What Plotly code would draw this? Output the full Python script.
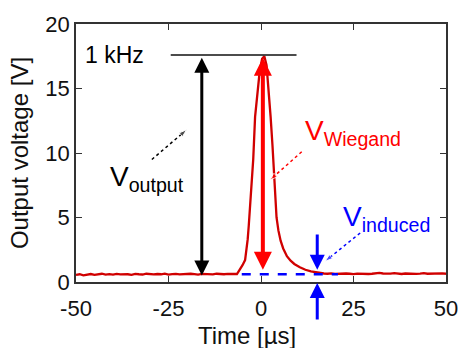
import plotly.graph_objects as go

# Wiegand pulse recorded at 1 kHz excitation
t_left = [-50, -49, -48, -47, -46, -45, -44, -43, -42, -41, -40, -39, -38, -37, -36,
          -35, -34, -33, -32, -31, -30, -29, -28, -27, -26, -25, -24, -23, -22, -21,
          -20, -19, -18, -17, -16, -15, -14, -13, -12, -11, -10, -9, -8, -7]
v_left = [0.55, 0.60, 0.52, 0.58, 0.62, 0.56, 0.60, 0.64, 0.58, 0.61, 0.57, 0.63, 0.59, 0.62,
          0.60, 0.56, 0.63, 0.60, 0.58, 0.64, 0.61, 0.59, 0.62, 0.60, 0.65, 0.58, 0.61, 0.63,
          0.59, 0.62, 0.60, 0.64, 0.61, 0.58, 0.63, 0.60, 0.62, 0.59, 0.64, 0.61, 0.60, 0.63,
          0.60, 0.62]
t_pulse = [-6.5, -5.7, -5.0, -4.3, -3.9, -3.6, -3.3, -3.0, -2.6, -2.1, -1.6, -1.0, -0.4, 0.3,
           0.9, 1.5, 2.1, 2.6, 3.1, 3.5, 3.8, 4.2, 4.7, 5.3, 6.0, 7.0, 8.0, 9.0, 10.5, 12.0,
           13.5, 15.0, 16.5]
v_pulse = [0.62, 0.95, 1.3, 1.7, 2.5, 3.3, 4.4, 5.6, 7.5, 9.5, 12.8, 14.6, 16.2, 17.3,
           17.5, 16.8, 14.8, 12.8, 10.6, 8.4, 6.5, 5.0, 4.0, 3.2, 2.6, 2.0, 1.65, 1.4, 1.15,
           0.95, 0.82, 0.74, 0.68]
t_right = [17, 18, 19, 20, 21, 22, 23, 24, 25, 26, 27, 28, 29, 30, 31, 32, 33, 34, 35, 36,
           37, 38, 39, 40, 41, 42, 43, 44, 45, 46, 47, 48, 49, 50]
v_right = [0.66, 0.64, 0.67, 0.63, 0.65, 0.62, 0.66, 0.64, 0.61, 0.65, 0.63, 0.66, 0.62,
           0.64, 0.67, 0.70, 0.66, 0.63, 0.65, 0.68, 0.64, 0.62, 0.66, 0.64, 0.67, 0.63,
           0.65, 0.68, 0.64, 0.66, 0.63, 0.65, 0.67, 0.64]

t = t_left + t_pulse + t_right
v = v_left + v_pulse + v_right

x_ticks = [-50, -25, 0, 25, 50]
x_tick_text = ["-50", "-25", "0", "25", "50"]
y_ticks = [0, 5, 10, 15, 20]

# Annotated levels
v_peak = 17.6
v_base = 0.6
t_output = -16.0
t_wiegand = 0.5
t_induced = 15.2
dash_span = [-5.2, 20.8]
kHz_line = [-24.4, 9.6]

FONT = "Liberation Sans, Arial, sans-serif"
RED = "#ff0000"
BLUE = "#0000ff"

fig = go.Figure()

fig.add_trace(go.Scatter(x=t, y=v, mode="lines",
                         line=dict(color="#d00000", width=2.3),
                         hoverinfo="skip", showlegend=False))

# induced-voltage reference level
fig.add_trace(go.Scatter(x=dash_span, y=[v_base, v_base], mode="lines",
                         line=dict(color=BLUE, width=2.6, dash="dash"),
                         showlegend=False, hoverinfo="skip"))

# dotted pointer arrows to the labels
pointers = [
    ([-29.5, -20.1], [9.5, 11.8], "#000000"),
    ([11.0, 2.4], [10.1, 7.9], RED),
    ([26.8, 17.3], [3.8, 1.6], BLUE),
]
for px, py, col in pointers:
    fig.add_trace(go.Scatter(x=px, y=py, mode="lines+markers",
                             line=dict(color=col, width=1.5, dash="dot"),
                             marker=dict(symbol=["circle", "arrow"], size=[0, 8],
                                         angleref="previous", color=col),
                             showlegend=False, hoverinfo="skip", cliponaxis=False))

shapes = [dict(type="line", xref="x", yref="y", x0=kHz_line[0], x1=kHz_line[1],
               y0=v_peak, y1=v_peak, line=dict(color="#111111", width=1.6))]

annotations = []


def arrow(x, y, ax, ay, color, width, size=1.0, both=False):
    annotations.append(dict(x=x, y=y, ax=ax, ay=ay, xref="x", yref="y",
                            axref="x", ayref="y", text="", showarrow=True,
                            arrowhead=2, arrowsize=size, arrowwidth=width,
                            arrowcolor=color,
                            arrowside="end+start" if both else "end"))


arrow(t_output, v_base - 0.1, t_output, v_peak - 0.1, "#000000", 3, 1.0, both=True)
arrow(t_wiegand, v_base + 0.35, t_wiegand, v_peak - 0.1, RED, 4, 0.9, both=True)
arrow(t_induced, v_base + 0.35, t_induced, 3.8, BLUE, 3, 1.0)

# upward arrow just below the time axis (tail given in pixels)
annotations.append(dict(x=t_induced, y=-0.004, xref="x", yref="paper",
                        ax=0, ay=38, axref="pixel", ayref="pixel", text="",
                        showarrow=True, arrowhead=2, arrowsize=1.0, arrowwidth=3,
                        arrowcolor=BLUE))


def label(x, y, text, color, size):
    annotations.append(dict(x=x, y=y, xref="x", yref="y", text=text, showarrow=False,
                            font=dict(family=FONT, size=size, color=color)))


label(-39.5, 17.6, "1 kHz", "#000000", 23)
label(-30.8, 8.0, "V<sub>output</sub>", "#000000", 28)
label(24.9, 11.6, "V<sub>Wiegand</sub>", RED, 28)
label(33.8, 4.9, "V<sub>induced</sub>", BLUE, 28)

# x-axis title placed in paper coordinates
annotations.append(dict(x=(247 - 76) / (474 - 76 - 28), y=-(335 - 282) / (348 - 24 - 66),
                        xref="paper", yref="paper", text="Time [µs]", showarrow=False,
                        xanchor="center", yanchor="middle",
                        font=dict(family=FONT, size=24, color="#111111")))

fig.update_layout(
    width=474, height=348,
    margin=dict(l=76, r=28, t=24, b=66),
    paper_bgcolor="white", plot_bgcolor="white",
    font=dict(family=FONT, size=22, color="#111111"),
    shapes=shapes,
    annotations=annotations,
)
fig.update_xaxes(range=[-50, 50], tickvals=x_ticks, ticktext=x_tick_text,
                 ticks="inside", ticklen=6, tickwidth=1.3, tickcolor="#333333",
                 showline=True, linecolor="#333333", linewidth=1.5, mirror="ticks",
                 showgrid=False, zeroline=False, ticklabelstandoff=6)
fig.update_yaxes(range=[0, 20], tickvals=y_ticks,
                 ticks="inside", ticklen=6, tickwidth=1.3, tickcolor="#333333",
                 showline=True, linecolor="#333333", linewidth=1.5, mirror="ticks",
                 showgrid=False, zeroline=False,
                 title=dict(text="Output voltage [V]", font=dict(size=24), standoff=10))

fig.write_html("out.html")
